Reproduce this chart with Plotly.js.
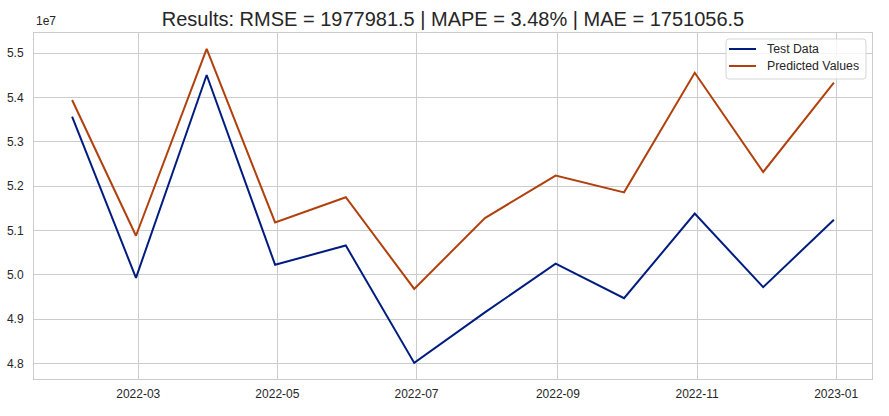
<!DOCTYPE html>
<html>
<head>
<meta charset="utf-8">
<script src="https://cdn.plot.ly/plotly-3.0.1.min.js"></script>
<style>html,body{margin:0;padding:0;background:#fff;}#chart{width:889px;height:416px;}</style>
</head>
<body>
<div id="chart"></div>
<script>
const dates = ['2022-01-31','2022-02-28','2022-03-31','2022-04-30','2022-05-31','2022-06-30',
               '2022-07-31','2022-08-31','2022-09-30','2022-10-31','2022-11-30','2022-12-31'];
const testData = [53570000, 49930000, 54510000, 50226000, 50660000, 48010000,
                  49150000, 50250000, 49470000, 51380000, 49720000, 51240000];
const predictedValues = [53946000, 50880000, 55100000, 51180000, 51750000, 49680000,
                         51280000, 52240000, 51860000, 54560000, 52320000, 54340000];
const seriesNames = ['Test Data', 'Predicted Values'];
const seriesColors = ['#001c7f', '#b1400d'];
const yTickVals = [48000000, 49000000, 50000000, 51000000, 52000000, 53000000, 54000000, 55000000];
const yTickText = ['4.8', '4.9', '5.0', '5.1', '5.2', '5.3', '5.4', '5.5'];
const titleText = 'Results: RMSE = 1977981.5 | MAPE = 3.48% | MAE = 1751056.5';

const font = '"Liberation Sans", Arial, "DejaVu Sans", sans-serif';
const W = 889, H = 416, M = {l: 34, r: 17, t: 33, b: 37};
const PW = W - M.l - M.r, PH = H - M.t - M.b;
const px = x => (x - M.l) / PW;        // pixel -> paper x
const py = y => (H - M.b - y) / PH;    // pixel -> paper y

const traces = [
  {x: dates, y: testData, type: 'scatter', mode: 'lines', name: seriesNames[0], showlegend: false,
   line: {color: seriesColors[0], width: 2}},
  {x: dates, y: predictedValues, type: 'scatter', mode: 'lines', name: seriesNames[1], showlegend: false,
   line: {color: seriesColors[1], width: 2}}
];

// custom matplotlib-like legend box (rounded corners)
function roundRect(x0, y0, x1, y1, r) {
  const X = v => px(v).toFixed(5), Y = v => py(v).toFixed(5);
  return `M ${X(x0 + r)} ${Y(y0)} L ${X(x1 - r)} ${Y(y0)} Q ${X(x1)} ${Y(y0)} ${X(x1)} ${Y(y0 + r)} ` +
         `L ${X(x1)} ${Y(y1 - r)} Q ${X(x1)} ${Y(y1)} ${X(x1 - r)} ${Y(y1)} ` +
         `L ${X(x0 + r)} ${Y(y1)} Q ${X(x0)} ${Y(y1)} ${X(x0)} ${Y(y1 - r)} ` +
         `L ${X(x0)} ${Y(y0 + r)} Q ${X(x0)} ${Y(y0)} ${X(x0 + r)} ${Y(y0)} Z`;
}
const legendBox = {x0: 726, y0: 39, x1: 866, y1: 79};
const legendRows = [49, 66];
const shapes = [{type: 'path', xref: 'paper', yref: 'paper', path: roundRect(legendBox.x0, legendBox.y0, legendBox.x1, legendBox.y1, 3),
                 fillcolor: 'rgba(255,255,255,0.8)', line: {color: '#d5d5d5', width: 1}, layer: 'above'}];
const annotations = [{text: '1e7', xref: 'paper', yref: 'paper', x: 0, y: 1, xanchor: 'left', yanchor: 'bottom',
                      yshift: 3, showarrow: false, font: {size: 12, color: '#262626', family: font}}];
seriesNames.forEach((n, i) => {
  shapes.push({type: 'line', xref: 'paper', yref: 'paper', x0: px(729), x1: px(756), y0: py(legendRows[i]), y1: py(legendRows[i]),
               line: {color: seriesColors[i], width: 2}, layer: 'above'});
  annotations.push({text: n, xref: 'paper', yref: 'paper', x: px(765), y: py(legendRows[i]), xanchor: 'left', yanchor: 'middle',
                    showarrow: false, font: {size: 12.3, color: '#262626', family: font}});
});

const layout = {
  width: W, height: H,
  margin: M,
  paper_bgcolor: '#ffffff', plot_bgcolor: '#ffffff',
  font: {family: font, color: '#262626', size: 12},
  title: {text: titleText, x: 0.5, xref: 'paper', xanchor: 'center',
          y: 1 - 19/416, yref: 'container', yanchor: 'middle',
          font: {family: font, size: 20, color: '#262626'}},
  xaxis: {type: 'date', range: ['2022-01-14 07:00', '2023-01-16 17:00'],
          tick0: '2022-01-01', dtick: 'M2', tickformat: '%Y-%m',
          showgrid: true, gridcolor: '#cccccc', gridwidth: 1,
          showline: true, mirror: true, linecolor: '#cccccc', linewidth: 1,
          ticks: 'outside', ticklen: 4, tickcolor: 'rgba(0,0,0,0)',
          tickfont: {size: 12, color: '#262626'}, zeroline: false},
  yaxis: {range: [47646000, 55458000], tickvals: yTickVals, ticktext: yTickText,
          showgrid: true, gridcolor: '#cccccc', gridwidth: 1,
          showline: true, mirror: true, linecolor: '#cccccc', linewidth: 1,
          ticks: 'outside', ticklen: 7, tickcolor: 'rgba(0,0,0,0)',
          tickfont: {size: 12, color: '#262626'}, zeroline: false},
  showlegend: false,
  shapes: shapes,
  annotations: annotations
};
Plotly.newPlot('chart', traces, layout, {displayModeBar: false, staticPlot: true});
</script>
</body>
</html>
